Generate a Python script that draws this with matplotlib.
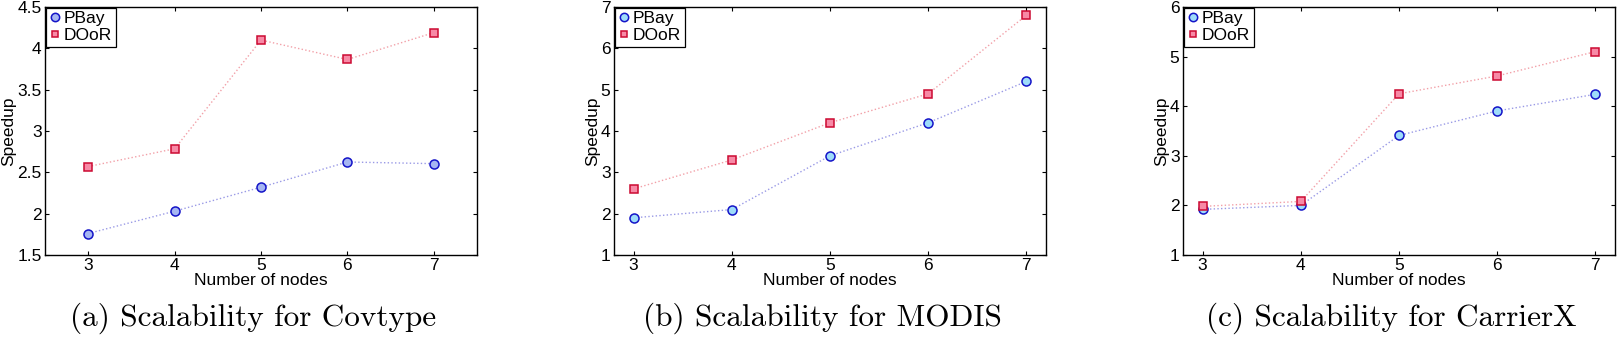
import matplotlib
matplotlib.use("Agg")
import matplotlib.pyplot as plt
from matplotlib.lines import Line2D
from matplotlib.ticker import FuncFormatter

nodes = [3, 4, 5, 6, 7]

covtype_pbay = [1.76, 2.03, 2.32, 2.625, 2.605]
covtype_door = [2.57, 2.785, 4.10, 3.865, 4.19]

modis_pbay = [1.90, 2.10, 3.40, 4.20, 5.20]
modis_door = [2.60, 3.30, 4.20, 4.90, 6.80]

carrierx_pbay = [1.92, 2.00, 3.41, 3.905, 4.24]
carrierx_door = [1.98, 2.08, 4.25, 4.61, 5.10]

captions = ["(a) Scalability for Covtype",
            "(b) Scalability for MODIS",
            "(c) Scalability for CarrierX"]
series_names = ["PBay", "DOoR"]
y_limits = [(1.5, 4.5), (1, 7), (1, 6)]
y_ticks = [[1.5, 2, 2.5, 3, 3.5, 4, 4.5], [1, 2, 3, 4, 5, 6, 7], [1, 2, 3, 4, 5, 6]]
x_limits = [(2.5, 7.5), (2.8, 7.2), (2.8, 7.2)]

data = [(covtype_pbay, covtype_door),
        (modis_pbay, modis_door),
        (carrierx_pbay, carrierx_door)]

pbay_faces = ["#a6b6f2", "#9edcfa", "#9edcfa"]
pbay_edge = "#1414c8"
pbay_line = "#9a9ae6"
door_face = "#f78aa6"
door_edge = "#cc0a32"
door_line = "#f2a0a8"

W, H = 1618, 337
fig = plt.figure(figsize=(W / 100, H / 100), dpi=100)

lefts = [45, 614, 1183]
ax_w = 432
ax_top = 7
ax_bot = 255

fs = 12.5
font = ["Liberation Sans", "DejaVu Sans"]

fmt = FuncFormatter(lambda v, p: ("%g" % v))

for i in range(3):
    ax = fig.add_axes([lefts[i] / W, 1 - ax_bot / H, ax_w / W, (ax_bot - ax_top) / H])
    pb, dr = data[i]
    ax.plot(nodes, pb, linestyle=":", color=pbay_line, linewidth=1.0,
            marker="o", markersize=6.5, markerfacecolor=pbay_faces[i],
            markeredgecolor=pbay_edge, markeredgewidth=1.1, zorder=3)
    ax.plot(nodes, dr, linestyle=":", color=door_line, linewidth=1.0,
            marker="s", markersize=5.4, markerfacecolor=door_face,
            markeredgecolor=door_edge, markeredgewidth=1.1, zorder=3)
    ax.set_xlim(*x_limits[i])
    ax.set_ylim(*y_limits[i])
    ax.set_xticks(nodes)
    ax.set_yticks(y_ticks[i])
    ax.yaxis.set_major_formatter(fmt)
    ax.xaxis.set_major_formatter(fmt)
    ax.tick_params(direction="in", length=3, width=0.8, top=True, right=True,
                   labelsize=fs, pad=2.5)
    for lab in ax.get_xticklabels() + ax.get_yticklabels():
        lab.set_family(font)
    for sp in ax.spines.values():
        sp.set_linewidth(1.0)
    ax.set_xlabel("Number of nodes", fontsize=fs, family=font, labelpad=0)
    ax.set_ylabel("Speedup", fontsize=fs, family=font, labelpad=0.5)

    handles = [
        Line2D([], [], linestyle="none", marker="o", markersize=6,
               markerfacecolor=pbay_faces[i], markeredgecolor=pbay_edge, markeredgewidth=1.1),
        Line2D([], [], linestyle="none", marker="s", markersize=5,
               markerfacecolor=door_face, markeredgecolor=door_edge, markeredgewidth=1.1),
    ]
    leg = ax.legend(handles, series_names, loc="upper left", fancybox=False,
                    framealpha=1, edgecolor="black", borderaxespad=0.05,
                    handlelength=0.6, handletextpad=0.25, borderpad=0.2,
                    labelspacing=0.1, prop={"family": font, "size": fs})
    leg.get_frame().set_linewidth(0.9)

    cx = (lefts[i] + ax_w / 2 - 8) / W
    fig.text(cx, 1 - 318 / H, captions[i], ha="center", va="center",
             fontsize=22.5, family="cmr10")

fig.savefig("out.png", dpi=100)
